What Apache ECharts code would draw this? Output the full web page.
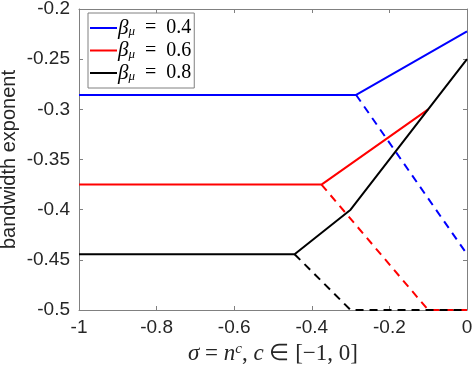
<!DOCTYPE html>
<html><head><meta charset="utf-8">
<script src="https://cdn.jsdelivr.net/npm/echarts@6/dist/echarts.min.js"></script>
<style>html,body{margin:0;padding:0;background:#fff}#c{width:474px;height:366px}</style>
</head><body><div id="c"></div>
<script>
const legendNames = ['0.4', '0.6', '0.8'];
const colors = ['#0000ff', '#ff0000', '#000000'];
const blueSolidX = [-1, -0.2857, 0];
const blueSolidY = [-0.2857, -0.2857, -0.2222];
const blueDashX = [-0.2857, 0];
const blueDashY = [-0.2857, -0.4444];
const redSolidX = [-1, -0.375, -0.1];
const redSolidY = [-0.375, -0.375, -0.3];
const redDashX = [-0.375, -0.1, 0];
const redDashY = [-0.375, -0.5, -0.5];
const blackSolidX = [-1, -0.4444, -0.3, 0];
const blackSolidY = [-0.4444, -0.4444, -0.4, -0.25];
const blackDashX = [-0.4444, -0.3, 0];
const blackDashY = [-0.4444, -0.5, -0.5];
const xTicks = [-1, -0.8, -0.6, -0.4, -0.2, 0];
const yTicks = [-0.5, -0.45, -0.4, -0.35, -0.3, -0.25, -0.2];

const zip = (xs, ys) => xs.map((x, i) => [x, ys[i]]);
const solids = [[blueSolidX, blueSolidY], [redSolidX, redSolidY], [blackSolidX, blackSolidY]];
const dashes = [[blueDashX, blueDashY], [redDashX, redDashY], [blackDashX, blackDashY]];

const series = [];
solids.forEach((s, i) => series.push({
  name: legendNames[i], type: 'line', data: zip(s[0], s[1]), symbol: 'none',
  lineStyle: { color: colors[i], width: 2 }, itemStyle: { color: colors[i] }, clip: false, z: 3
}));
dashes.forEach((s, i) => series.push({
  name: 'd' + legendNames[i], type: 'line', data: zip(s[0], s[1]), symbol: 'none',
  lineStyle: { color: colors[i], width: 2, type: [8, 6] }, itemStyle: { color: colors[i] }, clip: false, z: 2
}));

const axisCol = '#808080';
const labelFont = { fontFamily: 'Liberation Sans', fontSize: 19, color: '#262626' };
const serif = 'Liberation Serif';
const sp = '\u2002';

const chart = echarts.init(document.getElementById('c'), null, { renderer: 'canvas' });
chart.setOption({
  animation: false,
  backgroundColor: '#fff',
  grid: { left: 79, right: 7, top: 9, bottom: 56, containLabel: false, outerBoundsMode: 'none' },
  legend: {
    data: legendNames.map(n => ({ name: n, icon: 'rect' })), orient: 'vertical', left: 88, top: 13,
    itemWidth: 27, itemHeight: 2, itemGap: 1.5,
    padding: [4.5, 3, 4.5, 2],
    borderColor: '#808080', borderWidth: 1, backgroundColor: '#fff',
    formatter: n => '{b|β}{s|μ}{n|' + sp + '=' + sp + n + '}',
    textStyle: {
      fontFamily: serif, fontSize: 20, lineHeight: 19, color: '#000', padding: [0, 0, 0, -4],
      rich: {
        b: { fontFamily: serif, fontStyle: 'italic', fontSize: 21, lineHeight: 19, height: 19 },
        s: { fontFamily: serif, fontStyle: 'italic', fontSize: 13, verticalAlign: 'bottom', lineHeight: 11, height: 11 },
        n: { fontFamily: serif, fontSize: 20, lineHeight: 19, height: 19 }
      }
    }
  },
  xAxis: [{
    type: 'value', min: -1, max: 0, interval: 0.2,
    axisLine: { show: true, onZero: false, lineStyle: { color: axisCol } },
    axisTick: { inside: true, length: 4, lineStyle: { color: axisCol } },
    axisLabel: Object.assign({ margin: 8, customValues: xTicks }, labelFont),
    splitLine: { show: false },
    name: '{i|σ} = {i|n}{sup|c}, {i|c} ∈ [−1, 0]',
    nameLocation: 'middle', nameGap: 28,
    nameTextStyle: {
      fontFamily: serif, fontSize: 23, color: '#262626',
      rich: {
        i: { fontFamily: serif, fontStyle: 'italic', fontSize: 23 },
        sup: { fontFamily: serif, fontStyle: 'italic', fontSize: 15, verticalAlign: 'top', padding: [0, 0, 10, 0] }
      }
    }
  }, {
    type: 'value', position: 'top', min: -1, max: 0, interval: 0.2,
    axisLine: { show: true, onZero: false, lineStyle: { color: axisCol } },
    axisTick: { inside: true, length: 4, lineStyle: { color: axisCol } },
    axisLabel: { show: false }, splitLine: { show: false }
  }],
  yAxis: [{
    type: 'value', min: -0.5, max: -0.2, interval: 0.05,
    axisLine: { show: true, onZero: false, lineStyle: { color: axisCol } },
    axisTick: { inside: true, length: 4, lineStyle: { color: axisCol } },
    axisLabel: Object.assign({ margin: 9 }, labelFont),
    splitLine: { show: false },
    name: 'bandwidth exponent', nameLocation: 'middle', nameGap: 60, nameMoveOverlap: false,
    nameTextStyle: { fontFamily: 'Liberation Sans', fontSize: 20, color: '#262626' }
  }, {
    type: 'value', position: 'right', min: -0.5, max: -0.2, interval: 0.05,
    axisLine: { show: true, onZero: false, lineStyle: { color: axisCol } },
    axisTick: { inside: true, length: 4, lineStyle: { color: axisCol } },
    axisLabel: { show: false }, splitLine: { show: false }
  }],
  series: series
});
</script></body></html>
